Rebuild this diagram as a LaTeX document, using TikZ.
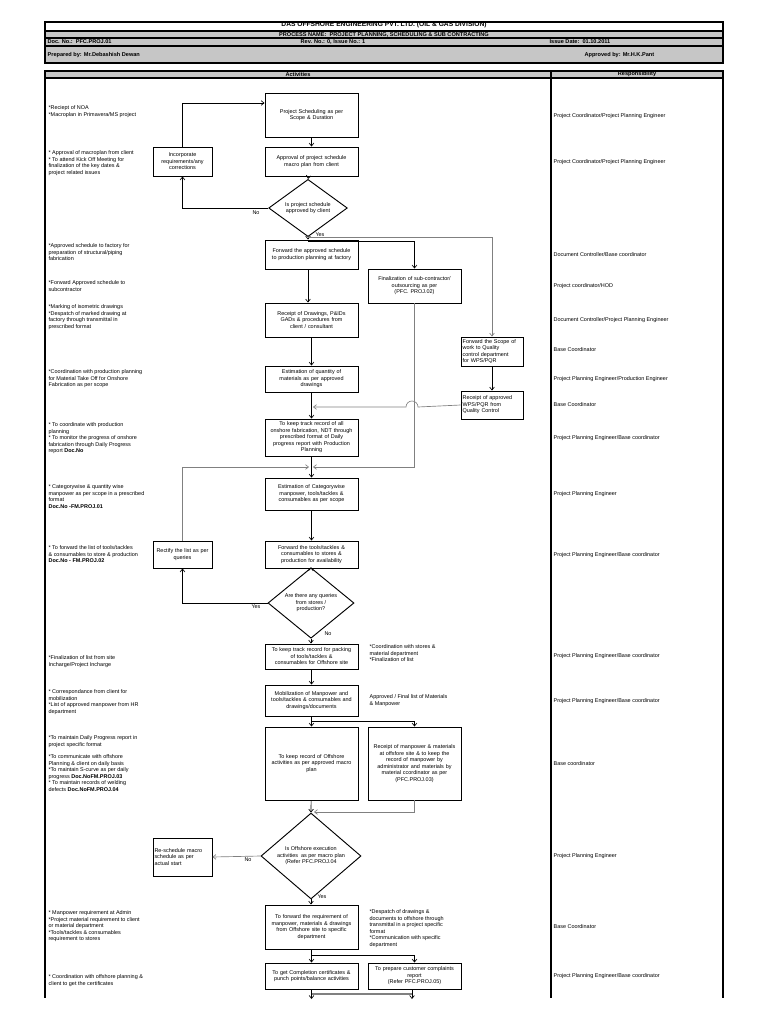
\documentclass[tikz,border=0pt]{standalone}
\usepackage{fontspec}
\setmainfont{Liberation Sans}
\usetikzlibrary{shapes.geometric,arrows.meta,calc}
\begin{document}
\begin{tikzpicture}[x=0.75pt,y=-0.75pt,
  every node/.style={font=\fontsize{4.1}{4.9}\selectfont, inner sep=1pt},
  box/.style={draw, line width=0.7pt, align=center, minimum width=69.75pt, text width=66pt},
  sbox/.style={draw, line width=0.7pt, align=center, minimum width=44.25pt, text width=42pt},
  lbox/.style={draw, line width=0.7pt, align=left, minimum width=46.5pt, text width=44pt},
  dia/.style={draw, line width=0.7pt, diamond, align=center, inner sep=0pt},
  note/.style={anchor=north west, align=left},
  resp/.style={anchor=west},
  arr/.style={line width=0.5pt, -{Straight Barb[length=2.2pt,width=3.5pt]}},
  ln/.style={line width=0.5pt},
  hdr/.style={font=\fontsize{4.2}{5}\selectfont\bfseries}]
\useasboundingbox (0,0) rectangle (768,1024);
% header
\fill[gray!45] (45,31) rectangle (723,63);
\draw[line width=1pt] (45,22) rectangle (723,63);
\draw[line width=0.8pt] (45,31) -- (723,31) (45,38) -- (723,38) (45,46) -- (723,46);
\node[font=\fontsize{5}{6}\selectfont\bfseries] (t1) at (384,26.5) {\underline{DAS OFFSHORE ENGINEERING PVT. LTD. (OIL \& GAS DIVISION)}};
\node[hdr] (t2) at (384,34.5) {PROCESS NAME:\ \ PROJECT PLANNING, SCHEDULING \& SUB CONTRACTING};
\node[hdr,anchor=west] (t3) at (46,42) {Doc. No.:\ \ PFC.PROJ.01};
\node[hdr] (t4) at (333,42) {Rev. No.: 0, Issue No.: 1};
\node[hdr,anchor=west] (t5) at (548,42) {Issue Date:\ \ 01.10.2011};
\node[hdr,anchor=west] (t6) at (46,55) {Prepared by: Mr.Debashish Dewan};
\node[hdr,anchor=west] (t7) at (583,55) {Approved by: Mr.H.K.Pant};
% table
\fill[gray!45] (45,71) rectangle (723,78);
\draw[line width=0.9pt] (45,71) rectangle (723,78);
\draw[line width=0.9pt] (551,71) -- (551,998) (723,78) -- (723,998);
\draw[line width=1.2pt] (45,78) -- (45,998);
\node[hdr] (ha) at (298,74.5) {Activities};
\node[hdr] (hr) at (637,74.5) {Responsibility};
% nodes
\node[box, minimum height=33pt] (b1) at (311.5,115) {Project Scheduling as per\\Scope \& Duration};
\node[box, minimum height=21.75pt] (b2) at (311.5,161.5) {Approval of project schedule\\macro plan from client};
\node[sbox, minimum height=21.75pt] (inc) at (182.5,161.5) {Incorporate\\requirements/any\\corrections};
\node[dia, minimum width=59pt, minimum height=31.5pt] (d1) at (308,208) {Is project schedule\\approved by client};
\node[box, minimum height=21.75pt] (b3) at (311.5,254.5) {Forward the approved schedule\\to production planning at factory};
\node[box, minimum height=25.5pt] (fin) at (414.5,286) {Finalization of sub-contractor/\\outsourcing as per\\(PFC. PROJ.02)};
\node[box, minimum height=25.5pt] (b4) at (311.5,320) {Receipt of Drawings, P\&IDs\\GADs \& procedures from\\client / consultant};
\node[lbox, minimum height=21.75pt] (fs) at (492,351.5) {Forward the Scope of\\work to Quality\\control department\\for WPS/PQR};
\node[box, minimum height=19.5pt] (b5) at (311.5,379) {Estimation of quantity of\\materials as per approved\\drawings};
\node[lbox, minimum height=21pt] (wps) at (492,405) {Receipt of approved\\WPS/PQR from\\Quality Control};
\node[box, minimum height=27.75pt] (b6) at (311.5,437.5) {To keep track record of all\\onshore fabrication, NDT through\\prescribed format of Daily\\progress report with Production\\Planning};
\node[box, minimum height=24pt] (b7) at (311.5,494) {Estimation of Categorywise\\manpower, tools/tackles \&\\consumables as per scope};
\node[box, minimum height=20.25pt] (b8) at (311.5,554.5) {Forward the tools/tackles \&\\consumables to stores \&\\production for availability};
\node[sbox, minimum height=20.25pt] (rect) at (182.5,554.5) {Rectify the list as per\\queries};
\node[dia, minimum width=64.5pt, minimum height=33pt] (d2) at (311,603) {Are there any queries\\from stores /\\production?};
\node[box, minimum height=18.75pt] (b9) at (311.5,656.5) {To keep track record for packing\\of tools/tackles \&\\consumables for Offshore site};
\node[box, minimum height=23.25pt] (b10) at (311.5,700.5) {Mobilization of Manpower and\\tools/tackles \& consumables and\\drawings/documents};
\node[box, minimum height=54.75pt] (b11) at (311.5,763.5) {To keep record of Offshore\\activities as per approved macro\\plan};
\node[box, minimum height=54.75pt] (rm) at (414.5,763.5) {Receipt of manpower \& materials\\at offsfore site \& to keep the\\record of manpower by\\administrator and materials by\\material ccordinator as per\\(PFC.PROJ.03)};
\node[dia, minimum width=75pt, minimum height=51pt] (d3) at (311,856) {Is Offshore execution\\activities\ \ as per macro plan\\(Refer PFC.PROJ.04};
\node[lbox, minimum width=44.25pt, text width=42pt, minimum height=28.5pt] (res) at (182.5,857) {Re-schedule macro\\schedule as per\\actual start\\[4pt]};
\node[box, minimum height=33pt] (b12) at (311.5,927) {To forward the requirement of\\manpower, materials \& drawings\\from Offshore site to specific\\department};
\node[box, minimum height=19.5pt] (b13) at (311.5,976) {To get Completion certificates \&\\punch points/balance activities};
\node[box, minimum height=19.5pt] (cc) at (414.5,976) {To prepare customer complaints\\report\\(Refer PFC.PROJ.05)};
\coordinate (e1) at (311.5,999);
\coordinate (e2) at (412,999);
% connectors
\draw[arr] (inc.north) |- ($(b1.west)+(0,-12)$);
\draw[arr] (b1) -- (b2);
\draw[arr] (b2) -- (d1.north);
\draw[arr] (d1.west) -| (inc.south);
\node (no1) at (256,213) {No};
\draw[arr] (d1.south) -- (d1.south |- b3.north);
\node (yes1) at (320,234.5) {Yes};
\draw[arr] ($(d1.south)+(0,4)$) -| (fin.north);
\draw[arr,gray] (d1.south) -| (fs.north);
\draw[arr] (b3.south -| d1.south) -- (b4.north -| d1.south);
\draw[arr] (b4) -- (b5);
\draw[arr] (b5) -- (b6);
\draw[arr] (fs) -- (wps);
\draw[arr,gray] (wps.west) -- (418,407) arc[start angle=0,end angle=-180,radius=6] -- (313,407);
\draw[arr] (b6) -- (b7);
\draw[arr,gray] (fin.south) |- (313,467);
\draw[arr,gray] (rect.north) |- (309,467);
\draw[arr] (b7) -- (b8);
\draw[arr] (b8) -- (d2.north);
\draw[arr] (d2.west) -| (rect.south);
\node (yes2) at (256,607) {Yes};
\draw[arr] (d2.south) -- (b9.north -| d2.south);
\node (no2) at (328,634) {No};
\draw[arr] (b9) -- (b10);
\draw[arr] (b10) -- (b11);
\draw[arr] ($(b10.south)+(0,5)$) -| (rm.north);
\draw[arr] (b11) -- (d3.north);
\draw[arr,gray] (rm.south) |- (314,812);
\draw[arr,gray] (d3.west) -- (res.east);
\node (no3) at (248,860) {No};
\draw[arr] (d3.south) -- (b12.north -| d3.south);
\node (yes3) at (322,897) {Yes};
\draw[arr] (b12) -- (b13);
\draw[arr] ($(b12.south)+(0,6)$) -| (cc.north);
\draw[arr] (b13.south) -- (e1);
\draw[arr] (cc.south -| e2) -- (e2);
\draw[ln,gray,line width=1.2pt] ($(e1)+(0,-5)$) -- ($(e2)+(0,-5)$);
% left notes
\node[note] (n1) at (47,104) {*Reciept of NOA\\*Macroplan in Primavera/MS project};
\node[note] (n2) at (47,149) {* Approval of macroplan from client\\* To attend Kick Off Meeting for\\finalization of the key dates \&\\project related issues};
\node[note] (n3) at (47,242) {*Approved schedule to factory for\\preparation of structural/piping\\fabrication};
\node[note] (n4) at (47,279) {*Forward Approved schedule to\\subcontractor};
\node[note] (n5) at (47,303) {*Marking of isometric drawings\\*Despatch of marked drawing at\\factory through transmittal in\\prescribed format};
\node[note] (n6) at (47,368) {*Coordination with production planning\\for Material Take Off for Onshore\\Fabrication as per scope};
\node[note] (n7) at (47,421) {* To coordinate with production\\planning\\* To monitor the progress of onshore\\fabrication through Daily Progress\\report \textbf{Doc.No}};
\node[note] (n8) at (47,483) {* Categorywise \& quantity wise\\manpower as per scope in a prescribed\\format\\\textbf{Doc.No -FM.PROJ.01}};
\node[note] (n9) at (47,544) {* To forward the list of tools/tackles\\\& consumables to store \& production\\\textbf{Doc.No - FM.PROJ.02}};
\node[note] (n10) at (47,654) {*Finalization of list from site\\Incharge/Project Incharge};
\node[note] (n11) at (47,688) {* Correspondance from client for\\mobilization\\*List of approved manpower from HR\\department};
\node[note] (n12) at (47,734) {*To maintain Daily Progress report in\\project specific format};
\node[note] (n13) at (47,753) {*To communicate with offshore\\Planning \& client on daily basis\\*To maintain S-curve as per daily\\progress \textbf{Doc.NoFM.PROJ.03}\\* To maintain records of welding\\defects \textbf{Doc.NoFM.PROJ.04}};
\node[note] (n14) at (47,909) {* Manpower requirement at Admin\\*Project material requirement to client\\or material department\\*Tools/tackles \& consumables\\requirement to stores};
\node[note] (n15) at (47,973) {* Coordination with offshore planning \&\\client to get the certificates};
% right notes
\node[note] (r1) at (368,643) {*Coordination with stores \&\\material department\\*Finalization of list};
\node[note] (r2) at (368,693) {Approved / Final list of Materials\\\& Manpower};
\node[note] (r3) at (368,908) {*Despatch of drawings \&\\documents to offshore through\\transmittal in a project specific\\format\\*Communication with specific\\department};
% responsibility
\node[resp] (p1) at (552,116) {Project Coordinator/Project Planning Engineer};
\node[resp] (p2) at (552,162) {Project Coordinator/Project Planning Engineer};
\node[resp] (p3) at (552,255) {Document Controller/Base coordinator};
\node[resp] (p4) at (552,286) {Project coordinator/HOD};
\node[resp] (p5) at (552,320) {Document Controller/Project Planning Engineer};
\node[resp] (p6) at (552,350) {Base Coordinator};
\node[resp] (p7) at (552,379) {Project Planning Engineer/Production Engineer};
\node[resp] (p8) at (552,405) {Base Coordinator};
\node[resp] (p9) at (552,438) {Project Planning Engineer/Base coordinator};
\node[resp] (p10) at (552,494) {Project Planning Engineer};
\node[resp] (p11) at (552,555) {Project Planning Engineer/Base coordinator};
\node[resp] (p12) at (552,656) {Project Planning Engineer/Base coordinator};
\node[resp] (p13) at (552,701) {Project Planning Engineer/Base coordinator};
\node[resp] (p14) at (552,764) {Base coordinator};
\node[resp] (p15) at (552,856) {Project Planning Engineer};
\node[resp] (p16) at (552,927) {Base Coordinator};
\node[resp] (p17) at (552,976) {Project Planning Engineer/Base coordinator};
\end{tikzpicture}
\end{document}
